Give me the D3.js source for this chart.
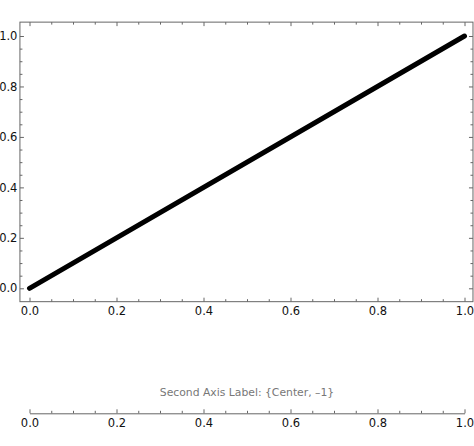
<!DOCTYPE html>
<html lang="en">
  <head>
    <meta charset="utf-8">
    <title>Second axis</title>
    <script src="https://d3js.org/d3.v7.min.js"></script>
    <style>
      body { margin: 0; background: #fff; }
      .tickLab text { font: 11.5px "DejaVu Sans"; fill: #111; }
    </style>
  </head>
  <body>
    <div id="chart"></div>
    <script>
      // data
      var xValues = [0, 1];
      var yValues = [0, 1];
      var majorTicks = [0, 0.2, 0.4, 0.6, 0.8, 1.0];
      var minorTicks = [0.05, 0.1, 0.15, 0.25, 0.3, 0.35, 0.45, 0.5, 0.55, 0.65, 0.7, 0.75, 0.85, 0.9, 0.95];
      var tickLabels = ["0.0", "0.2", "0.4", "0.6", "0.8", "1.0"];
      var axisLabel = "Second Axis Label: {Center, \u20131}";

      var w = 474, h = 446;
      var svg = d3.select("#chart").append("svg")
                  .attr("width", w).attr("height", h);

      var x = d3.scaleLinear().domain([0, 1]).range([29.5, 464.5]);
      var y = d3.scaleLinear().domain([0, 1]).range([288.3, 36]);

      // frame bounds (plot range padding)
      var fx0 = x(-0.022), fx1 = x(1.0195);
      var fy0 = y(-0.053), fy1 = y(1.055);
      var axisCol = "#666";

      var fmt = function(d){ return tickLabels[majorTicks.indexOf(d)]; };

      // bottom frame
      var botG = svg.append("g").attr("class", "tickLab")
                   .attr("transform", `translate(0, ${fy0})`);
      botG.call(d3.axisBottom(x).tickValues(majorTicks).tickFormat(fmt)
                 .tickSizeInner(-4).tickSizeOuter(0).tickPadding(5.5));
      botG.append("g").call(d3.axisBottom(x).tickValues(minorTicks).tickFormat("")
                 .tickSizeInner(-2.5).tickSizeOuter(0));

      // top frame
      var topG = svg.append("g").attr("transform", `translate(0, ${fy1})`);
      topG.call(d3.axisTop(x).tickValues(majorTicks).tickFormat("")
                 .tickSizeInner(-4).tickSizeOuter(0));
      topG.append("g").call(d3.axisTop(x).tickValues(minorTicks).tickFormat("")
                 .tickSizeInner(-2.5).tickSizeOuter(0));

      // left frame
      var leftG = svg.append("g").attr("class", "tickLab")
                    .attr("transform", `translate(${fx0}, 0)`);
      leftG.call(d3.axisLeft(y).tickValues(majorTicks).tickFormat(fmt)
                  .tickSizeInner(-4).tickSizeOuter(0).tickPadding(2.5));
      leftG.append("g").call(d3.axisLeft(y).tickValues(minorTicks).tickFormat("")
                  .tickSizeInner(-2.5).tickSizeOuter(0));

      // right frame
      var rightG = svg.append("g").attr("transform", `translate(${fx1}, 0)`);
      rightG.call(d3.axisRight(y).tickValues(majorTicks).tickFormat("")
                   .tickSizeInner(-4).tickSizeOuter(0));
      rightG.append("g").call(d3.axisRight(y).tickValues(minorTicks).tickFormat("")
                   .tickSizeInner(-2.5).tickSizeOuter(0));

      svg.selectAll(".domain").remove();
      svg.append("rect")
         .attr("x", fx0).attr("y", fy1)
         .attr("width", fx1 - fx0).attr("height", fy0 - fy1)
         .attr("fill", "none").attr("stroke", axisCol).attr("stroke-width", 1);

      // the line
      var pts = xValues.map((d, i) => [d, yValues[i]]);
      svg.append("path").datum(pts)
         .attr("d", d3.line().x(d => x(d[0])).y(d => y(d[1])))
         .attr("fill", "none").attr("stroke", "#000")
         .attr("stroke-width", 5).attr("stroke-linecap", "round");

      // second axis
      var ax2 = svg.append("g").attr("class", "tickLab")
                   .attr("transform", "translate(0, 413.3)");
      ax2.call(d3.axisBottom(x).tickValues(majorTicks).tickFormat(fmt)
                 .tickSizeInner(-4).tickSizeOuter(0).tickPadding(5.5));
      ax2.append("g").call(d3.axisBottom(x).tickValues(minorTicks).tickFormat("")
                 .tickSizeInner(-2.5).tickSizeOuter(0)).select(".domain").remove();

      svg.append("text")
         .attr("x", (x(0) + x(1)) / 2).attr("y", 396)
         .attr("text-anchor", "middle")
         .style("font", "10.8px 'DejaVu Sans'").style("fill", "#777")
         .text(axisLabel);

      svg.selectAll(".tick line").attr("stroke", axisCol);
      svg.selectAll(".domain").attr("stroke", axisCol);
    </script>
  </body>
</html>
